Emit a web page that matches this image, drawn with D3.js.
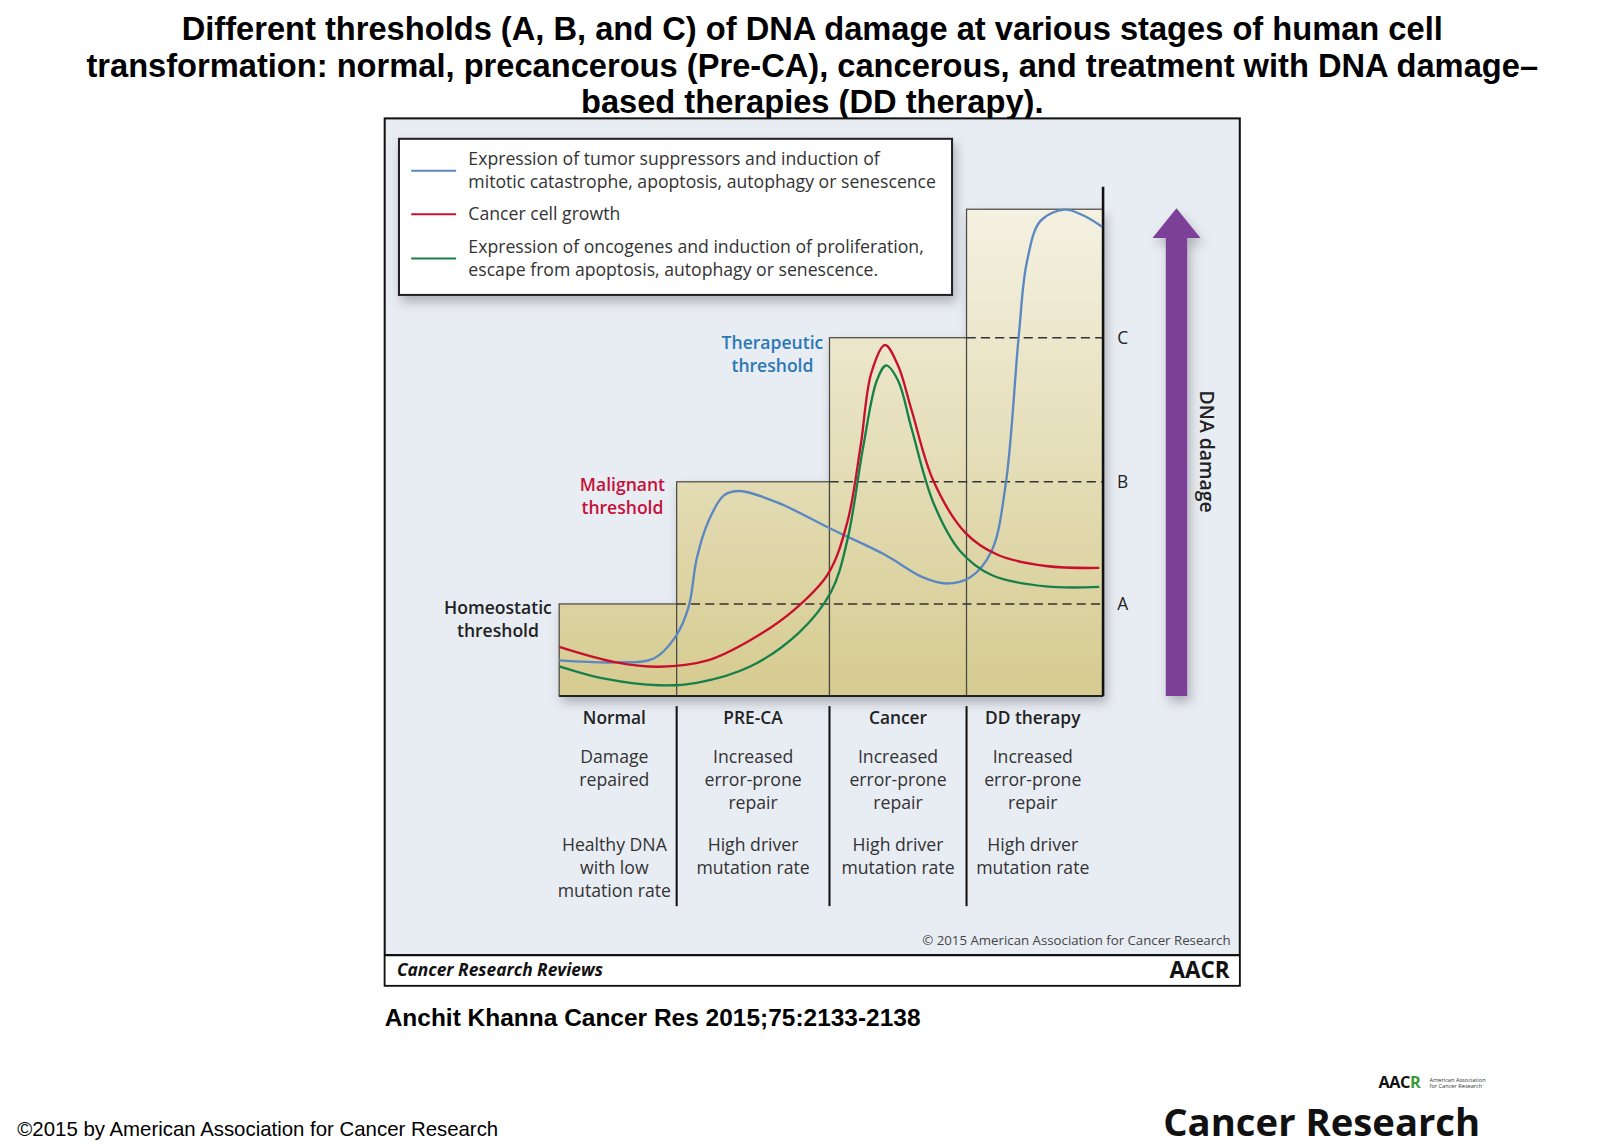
<!DOCTYPE html>
<html>
<head>
<meta charset="utf-8">
<script src="https://cdn.jsdelivr.net/npm/d3@7"></script>
<style>
  body { margin: 0; background: #fff; }
  svg { display: block; }
</style>
</head>
<body>
<div id="chart"></div>
<script>
// Stages (x in % of chart width, y in % of DNA damage scale)
const stages = ["Normal", "PRE-CA", "Cancer", "DD therapy"];
const stageEdges = [0, 21.6, 49.7, 74.9, 100];
const stageTops = [18.9, 44.0, 73.6, 100];
const repairText = [
    ["Damage", "repaired"],
    ["Increased", "error-prone", "repair"],
    ["Increased", "error-prone", "repair"],
    ["Increased", "error-prone", "repair"]
];
const mutationText = [
    ["Healthy DNA", "with low", "mutation rate"],
    ["High driver", "mutation rate"],
    ["High driver", "mutation rate"],
    ["High driver", "mutation rate"]
];

// Thresholds A, B, C sit on the first three step tops
const thresholdKeys = ["A", "B", "C"];
const thresholdNames = [
    ["Homeostatic", "threshold"],
    ["Malignant", "threshold"],
    ["Therapeutic", "threshold"]
];
const thresholdColors = ["#222", "#c4123a", "#2b78b5"];

// Curves: [x, y]
const suppressorCurve = [
    [0, 7.3], [10.5, 6.9], [17.4, 7.7], [21.4, 12.2], [23.8, 18.3], [25.3, 28.3],
    [27.4, 35.8], [30.3, 41.2], [33.2, 42.1], [40.2, 39.7], [50.0, 34.3], [59.9, 29.0],
    [66.8, 24.4], [71.2, 23.1], [75.6, 24.4], [79.5, 29.8], [82.1, 43.5], [84.5, 74.0],
    [86.0, 89.2], [88.5, 97.6], [92.9, 99.9], [96.4, 98.7], [99.8, 96.4]
];
const growthCurve = [
    [0, 10.1], [10.5, 6.9], [18.4, 6.0], [27.3, 7.3], [35.2, 11.5], [43.1, 17.6],
    [49.5, 25.2], [53.0, 35.8], [55.4, 51.2], [57.4, 66.4], [59.9, 72.1], [62.3, 67.9],
    [64.8, 58.7], [68.8, 44.2], [74.7, 33.5], [80.6, 29.0], [89.5, 26.7], [99.3, 26.3]
];
const oncogeneCurve = [
    [0, 6.1], [8.6, 3.5], [18.4, 2.2], [25.3, 2.7], [35.2, 6.1], [44.1, 13.0],
    [50.0, 21.4], [53.0, 32.1], [55.9, 51.2], [58.4, 64.8], [60.1, 67.9], [62.3, 64.8],
    [64.8, 54.9], [68.8, 39.7], [73.7, 29.8], [79.6, 24.8], [89.5, 22.5], [99.3, 22.4]
];

const legendItems = [
    { color: "#5b88c2", lines: ["Expression of tumor suppressors and induction of", "mitotic catastrophe, apoptosis, autophagy or senescence"] },
    { color: "#c8102e", lines: ["Cancer cell growth"] },
    { color: "#17804a", lines: ["Expression of oncogenes and induction of proliferation,", "escape from apoptosis, autophagy or senescence."] }
];

const titleLines = [
    "Different thresholds (A, B, and C) of DNA damage at various stages of human cell",
    "transformation: normal, precancerous (Pre-CA), cancerous, and treatment with DNA damage–",
    "based therapies (DD therapy)."
];

const width = 1600, height = 1147;
const vbW = 1568, vbH = 1124;
const svg = d3.select("#chart").append("svg")
    .attr("width", width)
    .attr("height", height)
    .attr("viewBox", `0 0 ${vbW} ${vbH}`);

svg.append("rect").attr("width", vbW).attr("height", vbH).attr("fill", "#fff");

const defs = svg.append("defs");
const grad = defs.append("linearGradient")
    .attr("id", "khaki")
    .attr("gradientUnits", "userSpaceOnUse")
    .attr("x1", 0).attr("x2", 0)
    .attr("y1", 205).attr("y2", 682);
grad.append("stop").attr("offset", "0%").attr("stop-color", "#f4f1e2");
grad.append("stop").attr("offset", "100%").attr("stop-color", "#d6cb90");

const shadow = defs.append("filter").attr("id", "shadow")
    .attr("x", "-10%").attr("y", "-10%").attr("width", "130%").attr("height", "130%");
shadow.append("feDropShadow")
    .attr("dx", 3).attr("dy", 6).attr("stdDeviation", 5)
    .attr("flood-color", "#000").attr("flood-opacity", 0.25);

// Scales
const x = d3.scaleLinear().domain([0, 100]).range([548, 1081]);
const y = d3.scaleLinear().domain([0, 100]).range([682, 205]);

const font = "'Open Sans', 'Noto Sans', sans-serif";
const arial = "Arial, 'Liberation Sans', sans-serif";

// Title
svg.append("g")
    .selectAll("text")
    .data(titleLines)
    .join("text")
    .attr("x", 796)
    .attr("y", (d, i) => 28 + i * 36)
    .attr("dy", "0.35em")
    .attr("text-anchor", "middle")
    .attr("font-family", arial)
    .attr("font-weight", "bold")
    .attr("font-size", 32)
    .text(d => d);

// Panel frame
svg.append("rect")
    .attr("x", 377).attr("y", 116).attr("width", 838).attr("height", 850)
    .attr("fill", "#e8ecf3")
    .attr("stroke", "#111").attr("stroke-width", 2);
svg.append("rect")
    .attr("x", 378).attr("y", 936).attr("width", 836).attr("height", 29)
    .attr("fill", "#fff");
svg.append("line")
    .attr("x1", 377).attr("x2", 1215).attr("y1", 936).attr("y2", 936)
    .attr("stroke", "#111").attr("stroke-width", 2);

// Step columns
const steps = svg.append("g").attr("filter", "url(#shadow)");
steps.selectAll("rect")
    .data(stages)
    .join("rect")
    .attr("x", (d, i) => x(stageEdges[i]))
    .attr("width", (d, i) => x(stageEdges[i + 1]) - x(stageEdges[i]))
    .attr("y", (d, i) => y(stageTops[i]))
    .attr("height", (d, i) => y(0) - y(stageTops[i]))
    .attr("fill", "url(#khaki)")
    .attr("stroke", "#4a4a44")
    .attr("stroke-width", 1.2);

// Threshold dashes
svg.append("g")
    .selectAll("line")
    .data(thresholdKeys)
    .join("line")
    .attr("x1", (d, i) => x(stageEdges[i + 1]))
    .attr("x2", x(100))
    .attr("y1", (d, i) => y(stageTops[i]))
    .attr("y2", (d, i) => y(stageTops[i]))
    .attr("stroke", "#333")
    .attr("stroke-width", 1.6)
    .attr("stroke-dasharray", "9,5");

// Axis edges
svg.append("line")
    .attr("x1", x(0)).attr("x2", x(100)).attr("y1", y(0)).attr("y2", y(0))
    .attr("stroke", "#222").attr("stroke-width", 2);
svg.append("line")
    .attr("x1", x(100)).attr("x2", x(100)).attr("y1", y(0)).attr("y2", y(104.6))
    .attr("stroke", "#111").attr("stroke-width", 2.5);

// Curves
const line = d3.line()
    .x(d => x(d[0]))
    .y(d => y(d[1]))
    .curve(d3.curveCatmullRom.alpha(0.5));

const curves = [
    { data: suppressorCurve, color: legendItems[0].color },
    { data: growthCurve, color: legendItems[1].color },
    { data: oncogeneCurve, color: legendItems[2].color }
];
svg.append("g")
    .selectAll("path")
    .data(curves)
    .join("path")
    .attr("d", d => line(d.data))
    .attr("fill", "none")
    .attr("stroke", d => d.color)
    .attr("stroke-width", 2.3);

// A, B, C labels
svg.append("g")
    .selectAll("text")
    .data(thresholdKeys)
    .join("text")
    .attr("x", x(103.6))
    .attr("y", (d, i) => y(stageTops[i]))
    .attr("dy", "0.35em")
    .attr("text-anchor", "middle")
    .attr("font-family", font)
    .attr("font-size", 17)
    .attr("fill", "#222")
    .text(d => d);

// Threshold names, centred left of each step
const nameX = [488, 610, 757];
const nameY = [596, 475, 336];
const names = svg.append("g");
thresholdNames.forEach((lines, i) => {
    names.append("g")
        .selectAll("text")
        .data(lines)
        .join("text")
        .attr("x", nameX[i])
        .attr("y", (d, j) => nameY[i] + j * 22.5)
        .attr("dy", "0.35em")
        .attr("text-anchor", "middle")
        .attr("font-family", font)
        .attr("font-weight", 600)
        .attr("font-size", 17.2)
        .attr("fill", thresholdColors[i])
        .text(d => d);
});

// Purple DNA damage arrow
const arrowX = x(113.5);
svg.append("path")
    .attr("d", `M${arrowX - 10.5},${y(0)} L${arrowX - 10.5},${y(94.1)} L${arrowX - 23.5},${y(94.1)}
                L${arrowX},${y(100.2)} L${arrowX + 23.5},${y(94.1)} L${arrowX + 10.5},${y(94.1)}
                L${arrowX + 10.5},${y(0)} Z`)
    .attr("fill", "#7b3f98")
    .attr("filter", "url(#shadow)");
svg.append("text")
    .attr("transform", `translate(${arrowX + 30},${y(50.2)}) rotate(90)`)
    .attr("dy", "0.35em")
    .attr("text-anchor", "middle")
    .attr("font-family", font)
    .attr("font-weight", 600)
    .attr("font-size", 19)
    .attr("fill", "#222")
    .text("DNA damage");

// Stage separators and texts below chart
svg.append("g")
    .selectAll("line")
    .data(stageEdges.slice(1, 4))
    .join("line")
    .attr("x1", d => x(d)).attr("x2", d => x(d))
    .attr("y1", 692).attr("y2", 888)
    .attr("stroke", "#111").attr("stroke-width", 2);

// texts in the outer columns sit a little off the column middle
const labelShift = [-3.5, 0, 0, -2];
const colCenter = i => (x(stageEdges[i]) + x(stageEdges[i + 1])) / 2 + labelShift[i];
const below = svg.append("g").attr("font-family", font).attr("fill", "#222").attr("text-anchor", "middle");
below.selectAll("text.stage")
    .data(stages)
    .join("text")
    .attr("class", "stage")
    .attr("x", (d, i) => colCenter(i))
    .attr("y", 704)
    .attr("dy", "0.35em")
    .attr("font-weight", 600)
    .attr("font-size", 17)
    .text(d => d);
stages.forEach((s, i) => {
    below.append("g").selectAll("text")
        .data(repairText[i])
        .join("text")
        .attr("x", colCenter(i))
        .attr("y", (d, j) => 742 + j * 22.5)
        .attr("dy", "0.35em")
        .attr("font-size", 17.3)
        .attr("fill", "#333")
        .text(d => d);
    below.append("g").selectAll("text")
        .data(mutationText[i])
        .join("text")
        .attr("x", colCenter(i))
        .attr("y", (d, j) => 828 + j * 22.5)
        .attr("dy", "0.35em")
        .attr("font-size", 17.3)
        .attr("fill", "#333")
        .text(d => d);
});

// Legend
const legend = svg.append("g");
legend.append("rect")
    .attr("x", 391).attr("y", 136).attr("width", 542).attr("height", 153)
    .attr("fill", "#fff")
    .attr("stroke", "#222").attr("stroke-width", 2)
    .attr("filter", "url(#shadow)");
const legendY = [156, 210, 242];
legendItems.forEach((item, i) => {
    const midY = legendY[i] + (item.lines.length - 1) * 11.25;
    legend.append("line")
        .attr("x1", 403).attr("x2", 447)
        .attr("y1", midY).attr("y2", midY)
        .attr("stroke", item.color).attr("stroke-width", 2);
    legend.append("g").selectAll("text")
        .data(item.lines)
        .join("text")
        .attr("x", 459)
        .attr("y", (d, j) => legendY[i] + j * 22.5)
        .attr("dy", "0.35em")
        .attr("font-family", font)
        .attr("font-size", 17.3)
        .attr("fill", "#333")
        .text(d => d);
});

// Panel copyright and footer
svg.append("text")
    .attr("x", 1206).attr("y", 922).attr("dy", "0.35em")
    .attr("text-anchor", "end")
    .attr("font-family", font).attr("font-size", 13)
    .attr("fill", "#444")
    .text("© 2015 American Association for Cancer Research");
svg.append("text")
    .attr("x", 389).attr("y", 951).attr("dy", "0.35em")
    .attr("font-family", font).attr("font-size", 17)
    .attr("font-weight", "bold").attr("font-style", "italic")
    .attr("fill", "#111")
    .text("Cancer Research Reviews");
svg.append("text")
    .attr("x", 1205).attr("y", 951).attr("dy", "0.35em")
    .attr("text-anchor", "end")
    .attr("font-family", font).attr("font-size", 22)
    .attr("font-weight", "bold")
    .attr("fill", "#111")
    .text("AACR");

// Citation and page footer
svg.append("text")
    .attr("x", 377).attr("y", 997).attr("dy", "0.35em")
    .attr("font-family", arial)
    .attr("font-weight", "bold").attr("font-size", 24)
    .text("Anchit Khanna Cancer Res 2015;75:2133-2138");
svg.append("text")
    .attr("x", 17).attr("y", 1106).attr("dy", "0.35em")
    .attr("font-family", arial)
    .attr("font-size", 20)
    .text("©2015 by American Association for Cancer Research");

const logo = svg.append("text")
    .attr("x", 1351).attr("y", 1061).attr("dy", "0.35em")
    .attr("font-family", font).attr("font-weight", "bold")
    .attr("font-size", 16).attr("letter-spacing", -0.5);
logo.append("tspan").attr("fill", "#111").text("AAC");
logo.append("tspan").attr("fill", "#3a9a3a").text("R");
svg.append("g")
    .selectAll("text")
    .data(["American Association", "for Cancer Research"])
    .join("text")
    .attr("x", 1401)
    .attr("y", (d, i) => 1058 + i * 6)
    .attr("dy", "0.35em")
    .attr("font-family", font)
    .attr("font-size", 5.5)
    .attr("fill", "#333")
    .text(d => d);
svg.append("text")
    .attr("x", 1140).attr("y", 1100).attr("dy", "0.35em")
    .attr("font-family", font).attr("font-weight", "bold")
    .attr("font-size", 37.5)
    .attr("fill", "#111")
    .text("Cancer Research");
</script>
</body>
</html>
